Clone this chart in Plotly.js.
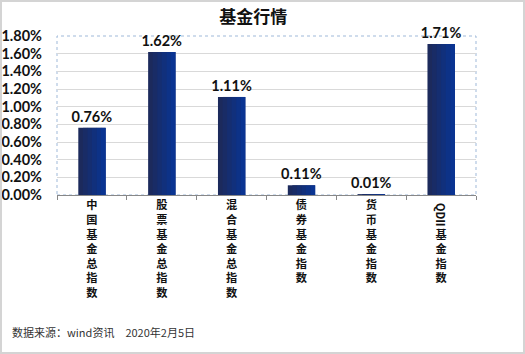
<!DOCTYPE html>
<html><head><meta charset="utf-8">
<script src="https://cdn.plot.ly/plotly-3.0.1.min.js"></script>
<style>
html,body{margin:0;padding:0;background:#fff;}
#wrap{position:relative;width:525px;height:354px;}
#chart{position:absolute;left:0;top:0;width:525px;height:354px;}
#frame{position:absolute;left:0;top:0;width:521px;height:350px;border:2px solid #d4d4d4;pointer-events:none;}
</style></head>
<body>
<div id="wrap"><div id="chart"></div><div id="frame"></div></div>
<script>
const categories = ['中国基金总指数','股票基金总指数','混合基金总指数','债券基金指数','货币基金指数','QDII基金指数'];
const values = [0.76, 1.62, 1.11, 0.11, 0.01, 1.71];
const valueLabels = ['0.76%','1.62%','1.11%','0.11%','0.01%','1.71%'];
const titleText = '基金行情';
const sourceText = '数据来源：wind资讯　2020年2月5日';
const gradientColors = ['#1c2a5c','#192c66','#152e71','#11307c','#0d3287','#0a3492'];

function stack(s){
  if (s.startsWith('QDII')) return '<br><br>' + s.slice(4).split('').join('<br>');
  return s.split('').join('<br>');
}
const tickText = categories.map(stack);

const barW = 0.39;
const traces = [{
  type:'bar', x:categories, y:values, width:barW,
  text:valueLabels, textposition:'outside', cliponaxis:false, constraintext:'none',
  textfont:{family:'Lato, "Open Sans", sans-serif', size:14.5, color:'#111', weight:'bold'},
  marker:{color:gradientColors[0], line:{width:0}},
  hoverinfo:'none'
}];
const n = gradientColors.length;
for (let i=1;i<n;i++){
  traces.push({
    type:'bar', x:categories, y:values,
    width:barW/n + 0.004, offset:-barW/2 + i*barW/n,
    marker:{color:gradientColors[i], line:{width:0}},
    hoverinfo:'none'
  });
}

const layout = {
  width:525, height:354,
  margin:{l:57, r:49, t:36, b:159},
  paper_bgcolor:'#fff', plot_bgcolor:'#fff',
  showlegend:false,
  barmode:'overlay',
  title:{text:titleText, x:246/525, xanchor:'center', xref:'paper', y:1-17/354, yanchor:'middle', yref:'container',
    font:{family:'"Noto Sans CJK SC", sans-serif', size:17, color:'#111', weight:'bold'}},
  xaxis:{
    type:'category', tickvals:categories, ticktext:tickText,
    tickson:'boundaries', ticks:'outside', ticklen:4, tickcolor:'#888',
    showline:true, linecolor:'#888', linewidth:1,
    showgrid:false, tickangle:0,
    tickfont:{family:'"Noto Sans CJK SC", sans-serif', size:11.2, color:'#111', weight:'bold'}
  },
  yaxis:{
    range:[0,1.8], dtick:0.2, tick0:0, tickformat:'.2f', ticksuffix:'%',
    showgrid:true, gridcolor:'#d9d9d9', gridwidth:1, zeroline:false,
    showline:false, ticks:'', ticklabelstandoff:14,
    tickfont:{family:'Lato, "Open Sans", sans-serif', size:14.5, color:'#111', weight:'bold'}
  },
  shapes:[
    {type:'rect', xref:'paper', yref:'paper', x0:0, x1:1, y0:0, y1:1,
     line:{color:'#9fb9d9', width:1, dash:'dot'}, fillcolor:'rgba(0,0,0,0)', layer:'below'}
  ],
  annotations:[
    {text:'QDII', xref:'x', yref:'paper', x:categories[5], y:-6/159, yanchor:'top', xanchor:'center',
     textangle:90, showarrow:false,
     font:{family:'"Noto Sans CJK SC", sans-serif', size:11, color:'#111', weight:'bold'}},
    {text:sourceText, xref:'paper', yref:'paper', x:-47/419, xanchor:'left', y:-(332-195)/159, yanchor:'middle',
     showarrow:false, font:{family:'"Noto Sans CJK SC", sans-serif', size:11, color:'#333'}}
  ]
};
Plotly.newPlot('chart',traces,layout,{displayModeBar:false, staticPlot:true});
</script>
</body></html>
